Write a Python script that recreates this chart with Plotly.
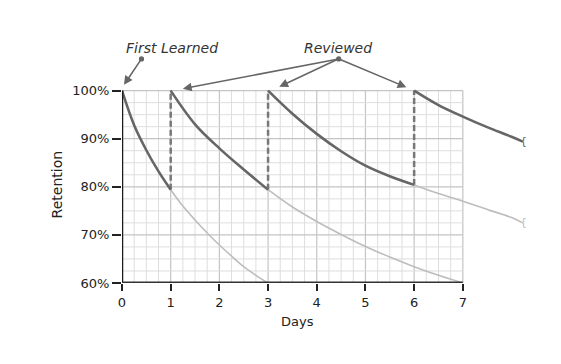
import numpy as np
import plotly.graph_objects as go

# ---- data ----
x_ticks = [0, 1, 2, 3, 4, 5, 6, 7]
y_ticks = [60, 70, 80, 90, 100]
y_labels = ["60%", "70%", "80%", "90%", "100%"]

review_days = [1, 3, 6]

curve1_days = [0, 0.25, 0.5, 0.75, 1, 1.25, 1.5, 1.75, 2, 2.25, 2.5, 2.75, 3]
curve1_ret = [100, 92.8, 87.6, 83.2, 79.4, 76.0, 73.1, 70.4, 67.9, 65.6, 63.4, 61.6, 60.0]

curve2_days = [1, 1.5, 2, 2.5, 3, 3.5, 4, 4.5, 5, 5.5, 6, 6.5, 7]
curve2_ret = [100, 93.0, 88.0, 83.6, 79.4, 75.8, 72.8, 70.1, 67.6, 65.4, 63.4, 61.6, 60.0]

curve3_days = [3, 3.5, 4, 4.5, 5, 5.5, 6, 6.5, 7, 7.5, 8, 8.23]
curve3_ret = [100, 95.2, 91.0, 87.4, 84.4, 82.2, 80.4, 78.6, 77.0, 75.3, 73.6, 72.5]

curve4_days = [6, 6.5, 7, 7.5, 8, 8.23]
curve4_ret = [100, 97.0, 94.6, 92.4, 90.4, 89.4]

first_label = "First Learned"
review_label = "Reviewed"

# ---- style ----
DARK = "#666666"
LIGHT = "#bdbdbd"
FONT = "DejaVu Sans"
XR = [0, 8.4]
YR = [60, 102]


def px(x):
    return (x - XR[0]) / (XR[1] - XR[0])


def py(y):
    return (y - YR[0]) / (YR[1] - YR[0])


curves = [(curve1_days, curve1_ret), (curve2_days, curve2_ret),
          (curve3_days, curve3_ret), (curve4_days, curve4_ret)]
dark_ends = review_days + [max(curve4_days)]

fig = go.Figure()

# grid (drawn only over the 0..7 / 60..100 region)
shapes = []
x0, x1 = x_ticks[0], x_ticks[-1]
y0, y1 = y_ticks[0], y_ticks[-1]
for gx in np.arange(x0, x1 + 0.001, 0.25):
    major = abs(gx - round(gx)) < 1e-6
    shapes.append(dict(type="line", xref="x", yref="y", x0=gx, x1=gx, y0=y0, y1=y1,
                       line=dict(color="#c4c4c4" if major else "#dedede", width=1.2 if major else 1),
                       layer="below"))
for gy in np.arange(y0, y1 + 0.001, 2.5):
    major = abs(gy / 10 - round(gy / 10)) < 1e-6
    shapes.append(dict(type="line", xref="x", yref="y", x0=x0, x1=x1, y0=gy, y1=gy,
                       line=dict(color="#c4c4c4" if major else "#dedede", width=1.2 if major else 1),
                       layer="below"))
# axis lines
shapes.append(dict(type="line", xref="x", yref="y", x0=x0, x1=x0, y0=y0, y1=y1,
                   line=dict(color="#1a1a1a", width=2.5)))
shapes.append(dict(type="line", xref="x", yref="y", x0=x0, x1=x1, y0=y0, y1=y0,
                   line=dict(color="#333333", width=3)))

# dashed review lines
for i, d in enumerate(review_days):
    cd, cr = curves[i]
    val = cr[cd.index(d)]
    fig.add_trace(go.Scatter(x=[d, d], y=[val, 100], mode="lines",
                             line=dict(color="#777777", width=2.5, dash="6px,3px"),
                             hoverinfo="skip", showlegend=False))

# curves: light (forgetting) part then dark part
for (cd, cr), de in zip(curves, dark_ends):
    lx = [d for d in cd if d >= de]
    ly = [r for d, r in zip(cd, cr) if d >= de]
    if len(lx) > 1:
        fig.add_trace(go.Scatter(x=lx, y=ly, mode="lines", line_shape="spline",
                                 line=dict(color=LIGHT, width=1.6), showlegend=False,
                                 hoverinfo="skip"))
    dx = [d for d in cd if d <= de]
    dy = [r for d, r in zip(cd, cr) if d <= de]
    fig.add_trace(go.Scatter(x=dx, y=dy, mode="lines", line_shape="spline",
                             line=dict(color=DARK, width=2.6), showlegend=False,
                             hoverinfo="skip"))

# break marks at curve ends beyond the grid
annotations = []
for (cd, cr), de in zip(curves, dark_ends):
    if cd[-1] > x1:
        col = DARK if de >= cd[-1] else LIGHT
        annotations.append(dict(x=cd[-1] + 0.02, y=cr[-1], xref="x", yref="y", text="{",
                                showarrow=False, xanchor="center", yanchor="middle",
                                font=dict(family=FONT, size=11, color=col)))

# callouts (above the plot area)
fl_tail = (0.40, 106.6)
rv_tail = (4.45, 106.6)
for t in (fl_tail, rv_tail):
    r = 2.6
    shapes.append(dict(type="circle", xref="paper", yref="paper",
                       xsizemode="pixel", ysizemode="pixel",
                       xanchor=px(t[0]), yanchor=py(t[1]),
                       x0=-r, x1=r, y0=-r, y1=r,
                       fillcolor=DARK, line=dict(width=0)))

arrow_tips = [(fl_tail, (0.04, 101.2)),
              (rv_tail, (1.25, 100.4)),
              (rv_tail, (3.23, 100.8)),
              (rv_tail, (5.84, 100.7))]
for tail, tip in arrow_tips:
    annotations.append(dict(x=tip[0], y=tip[1], xref="x", yref="y",
                            ax=tail[0], ay=tail[1], axref="x", ayref="y",
                            text="", showarrow=True, arrowhead=2, arrowsize=1.1,
                            arrowwidth=1.6, arrowcolor=DARK, standoff=0, startstandoff=0))

annotations.append(dict(x=px(1.02), y=py(108.8), xref="paper", yref="paper", text=first_label,
                        showarrow=False, xanchor="center", yanchor="middle",
                        font=dict(family=FONT, size=14, color="#333", style="italic")))
annotations.append(dict(x=px(4.43), y=py(108.8), xref="paper", yref="paper", text=review_label,
                        showarrow=False, xanchor="center", yanchor="middle",
                        font=dict(family=FONT, size=14, color="#333", style="italic")))

# axis titles
annotations.append(dict(x=0.430, y=-0.193, xref="paper", yref="paper", text="Days",
                        showarrow=False, xanchor="center", yanchor="middle",
                        font=dict(family=FONT, size=13, color="#222")))
annotations.append(dict(x=-0.158, y=0.49, xref="paper", yref="paper", text="Retention",
                        textangle=-90, showarrow=False, xanchor="center", yanchor="middle",
                        font=dict(family=FONT, size=14, color="#222")))

fig.update_layout(
    width=561, height=364,
    margin=dict(l=114, r=38, t=73, b=89),
    paper_bgcolor="white", plot_bgcolor="white",
    shapes=shapes, annotations=annotations,
    showlegend=False,
    xaxis=dict(range=XR, tickvals=x_ticks, ticktext=[str(v) for v in x_ticks],
               showgrid=False, zeroline=False, showline=False,
               ticks="outside", ticklen=7, tickwidth=2, tickcolor="#222",
               tickfont=dict(family=FONT, size=13, color="#222")),
    yaxis=dict(range=YR, tickvals=y_ticks, ticktext=y_labels,
               showgrid=False, zeroline=False, showline=False,
               ticks="outside", ticklen=9, tickwidth=2, tickcolor="#222",
               tickfont=dict(family=FONT, size=13, color="#222")),
)

fig.write_html("out.html")
